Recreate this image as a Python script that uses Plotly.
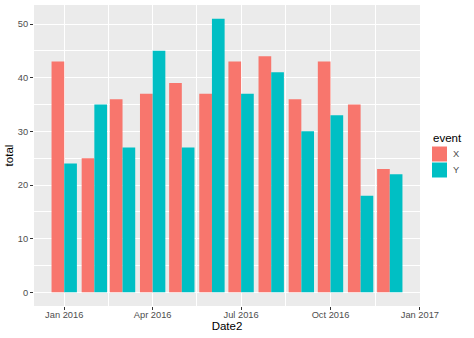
import pandas as pd
import plotly.graph_objects as go

# Monthly totals per event type
months = pd.date_range("2016-01-01", "2016-12-01", freq="MS")
event_x = [43, 25, 36, 37, 39, 37, 43, 44, 36, 43, 35, 23]
event_y = [24, 35, 27, 45, 27, 51, 37, 41, 30, 33, 18, 22]
series = {"X": event_x, "Y": event_y}
colors = {"X": "#F8766D", "Y": "#00BFC4"}

major_ticks = pd.to_datetime(["2016-01-01", "2016-04-01", "2016-07-01",
                              "2016-10-01", "2017-01-01"])

W, H = 474, 338
L, R, T, B = 34, 54, 5, 32

fig = go.Figure()
for name, vals in series.items():
    fig.add_trace(go.Bar(x=months, y=vals, name=name,
                         marker=dict(color=colors[name], line=dict(width=0)),
                         showlegend=False))

# x range: bar extent plus 5% expansion on each side
res = months.to_series().diff().min()
half = res * 0.9 / 2
lo, hi = months.min() - half, months.max() + half
pad = (hi - lo) * 0.05
xr = [lo - pad, hi + pad]
minor_ticks = [a + (b - a) / 2 for a, b in zip(major_ticks[:-1], major_ticks[1:])]

ymax = max(max(event_x), max(event_y))
ypad = ymax * 0.05

tickfont = dict(family="Liberation Sans, Arial, sans-serif", size=9.3, color="#4D4D4D")
titlefont = dict(family="Liberation Sans, Arial, sans-serif", size=11.5, color="#000000")

fig.update_layout(
    width=W, height=H,
    margin=dict(l=L, r=R, t=T, b=B, pad=0),
    paper_bgcolor="white", plot_bgcolor="#EBEBEB",
    barmode="group", bargap=0.1, bargroupgap=0,
    xaxis=dict(
        type="date", range=xr,
        tickvals=list(major_ticks), tickformat="%b %Y",
        ticks="outside", ticklen=3, tickwidth=1, tickcolor="#333333",
        tickfont=tickfont, ticklabelstandoff=-3,
        showgrid=True, gridcolor="white", gridwidth=1.1,
        minor=dict(tickvals=minor_ticks, showgrid=True, gridcolor="white",
                   gridwidth=0.6, ticks=""),
        zeroline=False, showline=False,
        title=dict(text="Date2", font=titlefont, standoff=1),
    ),
    yaxis=dict(
        range=[-ypad, ymax + ypad], dtick=10, tick0=0,
        ticks="outside", ticklen=3, tickwidth=1, tickcolor="#333333",
        tickfont=tickfont,
        showgrid=True, gridcolor="white", gridwidth=1.1,
        minor=dict(dtick=5, showgrid=True, gridcolor="white", gridwidth=0.6, ticks=""),
        zeroline=False, showline=False,
        title=dict(text="total", font=titlefont, standoff=1),
    ),
)

# Legend drawn in pixel space relative to the plotting panel
pw, ph = W - L - R, H - T - B
def px(x):
    return (x - L) / pw
def py(y):
    return (H - B - y) / ph

fig.add_annotation(x=px(431), y=py(138), xref="paper", yref="paper",
                   text="event", showarrow=False, xanchor="left", yanchor="middle",
                   font=titlefont)
key_top = 146.5
key = 15
for i, name in enumerate(series):
    y0 = key_top + i * (key + 1)
    fig.add_shape(type="rect", xref="paper", yref="paper",
                  x0=px(432), x1=px(432 + key), y0=py(y0 + key), y1=py(y0),
                  fillcolor=colors[name], line=dict(width=0))
    fig.add_annotation(x=px(451), y=py(y0 + key / 2), xref="paper", yref="paper",
                       text=name, showarrow=False, xanchor="left", yanchor="middle",
                       font=tickfont)

fig.write_html("out.html")
